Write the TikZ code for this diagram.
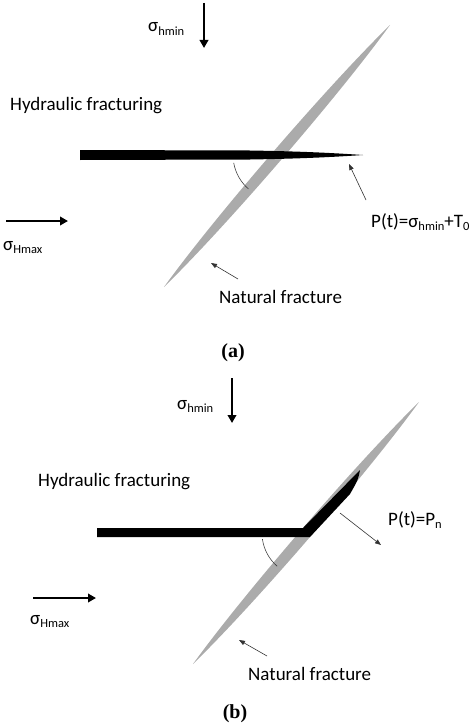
\documentclass[tikz,border=0pt]{standalone}
\usepackage{fontspec}
\setmainfont{Carlito}
\newfontfamily\capfont{Liberation Serif}
\usetikzlibrary{arrows.meta,calc}
\newcommand\lowsub[1]{\raisebox{-3.5pt}{\fontsize{12.5}{14}\selectfont #1}}
\tikzset{
  lbl/.style={anchor=base west,inner sep=0pt,font=\fontsize{19}{22}\selectfont},
  caplbl/.style={anchor=base,inner sep=0pt,font=\capfont\bfseries\fontsize{20}{22}\selectfont},
  stressarrow/.style={line width=2.6pt,-{Triangle[length=8pt,width=8.5pt]}},
  thinarrow/.style={line width=0.6pt,draw=black!80,-{Triangle[length=6pt,width=4.5pt]}},
  natfrac/.style={fill=black!33,draw=none},
  hydfrac/.style={fill=black,draw=none},
  anglearc/.style={line width=0.6pt,draw=black!75}
}
\begin{document}
\begin{tikzpicture}[x=1pt,y=-1pt]
\useasboundingbox (0,0) rectangle (474,725);
% ================= panel (a) =================
\coordinate (aNa) at (390,25);
\coordinate (aNb) at (164,287);
\fill[natfrac] (aNa) .. controls ($(aNa)!0.25!(aNb)!7.5pt!90:(aNb)$) and ($(aNa)!0.75!(aNb)!7.5pt!90:(aNb)$) .. (aNb)
  .. controls ($(aNa)!0.75!(aNb)!7.5pt!-90:(aNb)$) and ($(aNa)!0.25!(aNb)!7.5pt!-90:(aNb)$) .. (aNa) -- cycle;
\fill[hydfrac] (80,150) -- (250,150.5) .. controls (310,151.5) and (340,153.5) .. (363,155)
  .. controls (340,156.5) and (310,158.5) .. (250,159.5) -- (80,160) -- cycle;
\coordinate (aX) at (278,155);
\draw[anglearc] ($(aX)+(170:45)$) arc[start angle=170,end angle=131,radius=45];
% stresses
\coordinate (aS1) at (204,3);
\coordinate (aS2) at (204,48);
\draw[stressarrow] (aS1) -- (aS2);
\node[lbl] (ahmin) at (148,32) {σ\lowsub{hmin}};
\coordinate (aH1) at (6,221);
\coordinate (aH2) at (68,221);
\draw[stressarrow] (aH1) -- (aH2);
\node[lbl] (aHmax) at (3,250) {σ\lowsub{Hmax}};
\node[lbl] (ahf) at (10,110) {Hydraulic fracturing};
\node[lbl] (aP) at (371,227) {P(t)=σ\lowsub{hmin}+T\lowsub{0}};
\coordinate (aPs) at (366,200);
\coordinate (aPe) at (349,164);
\draw[thinarrow] (aPs) -- (aPe);
\node[lbl] (anf) at (219,303) {Natural fracture};
\coordinate (aNs) at (238,279);
\coordinate (aNe) at (211,263);
\draw[thinarrow] (aNs) -- (aNe);
\node[caplbl] (acap) at (233,357) {(a)};
% ================= panel (b) =================
\coordinate (bNa) at (419,402);
\coordinate (bNb) at (193,664);
\fill[natfrac] (bNa) .. controls ($(bNa)!0.25!(bNb)!7.5pt!90:(bNb)$) and ($(bNa)!0.75!(bNb)!7.5pt!90:(bNb)$) .. (bNb)
  .. controls ($(bNa)!0.75!(bNb)!7.5pt!-90:(bNb)$) and ($(bNa)!0.25!(bNb)!7.5pt!-90:(bNb)$) .. (bNa) -- cycle;
\fill[hydfrac] (97,528) -- (303,528) -- (360,470)
  .. controls (358,480) .. (350,494) -- (310,537) -- (97,537) -- cycle;
\coordinate (bX) at (306,533);
\draw[anglearc] ($(bX)+(172:44)$) arc[start angle=172,end angle=131,radius=44];
\coordinate (bS1) at (232,378);
\coordinate (bS2) at (232,423);
\draw[stressarrow] (bS1) -- (bS2);
\node[lbl] (bhmin) at (177,409) {σ\lowsub{hmin}};
\coordinate (bH1) at (33,598);
\coordinate (bH2) at (96,598);
\draw[stressarrow] (bH1) -- (bH2);
\node[lbl] (bHmax) at (30,624) {σ\lowsub{Hmax}};
\node[lbl] (bhf) at (38,486) {Hydraulic fracturing};
\node[lbl] (bP) at (388,525) {P(t)=P\lowsub{n}};
\coordinate (bPs) at (340,513);
\coordinate (bPe) at (381,545);
\draw[thinarrow] (bPs) -- (bPe);
\node[lbl] (bnf) at (248,680) {Natural fracture};
\coordinate (bNs) at (267,656);
\coordinate (bNe) at (239,640);
\draw[thinarrow] (bNs) -- (bNe);
\node[caplbl] (bcap) at (235,718) {(b)};
\end{tikzpicture}
\end{document}
